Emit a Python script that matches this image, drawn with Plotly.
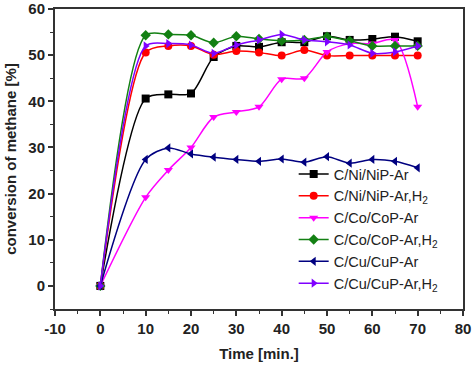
import plotly.graph_objects as go

time = [0, 10, 15, 20, 25, 30, 35, 40, 45, 50, 55, 60, 65, 70]
ni_ar = [0, 40.6, 41.5, 41.7, 49.6, 52.0, 51.8, 52.8, 52.8, 54.1, 53.3, 53.5, 54.0, 53.0]
ni_h2 = [0, 50.6, 52.0, 52.0, 50.1, 50.9, 50.6, 49.9, 51.1, 49.9, 49.9, 49.9, 49.9, 49.9]
co_ar = [0, 19.2, 25.1, 30.0, 36.6, 37.7, 38.8, 44.8, 45.0, 50.7, 52.5, 52.5, 53.3, 38.8]
co_h2 = [0, 54.3, 54.5, 54.3, 52.7, 54.1, 53.5, 53.1, 53.3, 54.0, 53.1, 52.0, 52.0, 52.0]
cu_ar = [0, 27.4, 29.9, 28.6, 27.9, 27.4, 27.0, 27.5, 26.8, 28.0, 26.6, 27.4, 27.0, 25.6]
cu_h2 = [0, 52.0, 52.5, 52.2, 50.4, 52.2, 53.3, 54.5, 53.3, 52.9, 52.2, 50.4, 50.7, 52.0]

x_ticks = [-10, 0, 10, 20, 30, 40, 50, 60, 70, 80]
y_ticks = [0, 10, 20, 30, 40, 50, 60]

names = ["C/Ni/NiP-Ar", "C/Ni/NiP-Ar,H<sub>2</sub>", "C/Co/CoP-Ar",
         "C/Co/CoP-Ar,H<sub>2</sub>", "C/Cu/CuP-Ar", "C/Cu/CuP-Ar,H<sub>2</sub>"]
series = [ni_ar, ni_h2, co_ar, co_h2, cu_ar, cu_h2]
colors = ["#000000", "#ff0000", "#ff00ff", "#138013", "#000080", "#7f00ff"]
symbols = ["square", "circle", "triangle-down", "diamond", "triangle-left", "triangle-right"]

fig = go.Figure()
for n, ys, c, s in zip(names, series, colors, symbols):
    fig.add_trace(go.Scatter(
        x=time, y=ys, name=n, mode="lines+markers",
        line=dict(color=c, width=1.5, shape="spline", smoothing=0.8),
        marker=dict(symbol=s, color=c, size=8),
    ))

axis_common = dict(
    showline=True, linecolor="#333333", linewidth=2, mirror=True,
    ticks="outside", ticklen=5, tickwidth=1.5, tickcolor="#333333",
    showgrid=False, zeroline=False, automargin=False,
    tickfont=dict(family="Liberation Sans, Arial", size=15, color="#222222"),
)

fig.update_layout(
    width=474, height=366,
    margin=dict(l=55, r=11, t=9, b=57),
    plot_bgcolor="white", paper_bgcolor="white",
    font=dict(family="Liberation Sans, Arial", color="#222222"),
    xaxis=dict(range=[-10, 80], tickmode="array", tickvals=x_ticks,
               ticktext=["<b>%d</b>" % v for v in x_ticks],
               minor=dict(ticks="outside", ticklen=3, tickwidth=1.2, tickcolor="#333333", dtick=5, tick0=0),
               title=dict(text="<b>Time [min.]</b>", font=dict(size=15), standoff=12),
               **axis_common),
    yaxis=dict(range=[-5, 60], tickmode="array", tickvals=y_ticks,
               ticktext=["<b>%d</b>" % v for v in y_ticks],
               minor=dict(ticks="outside", ticklen=3, tickwidth=1.2, tickcolor="#333333", dtick=5, tick0=0),
               title=dict(text="<b>conversion of methane [%]</b>", font=dict(size=15), standoff=8),
               **axis_common),
    legend=dict(x=0.585, y=0.03, xanchor="left", yanchor="bottom",
                bgcolor="rgba(255,255,255,0)", font=dict(size=14.5, color="#222222"),
                tracegroupgap=0, itemwidth=30),
    showlegend=True,
)

fig.write_html("out.html", config={"displayModeBar": False},
               post_script="document.body.style.margin='0';document.body.style.overflow='hidden';")
